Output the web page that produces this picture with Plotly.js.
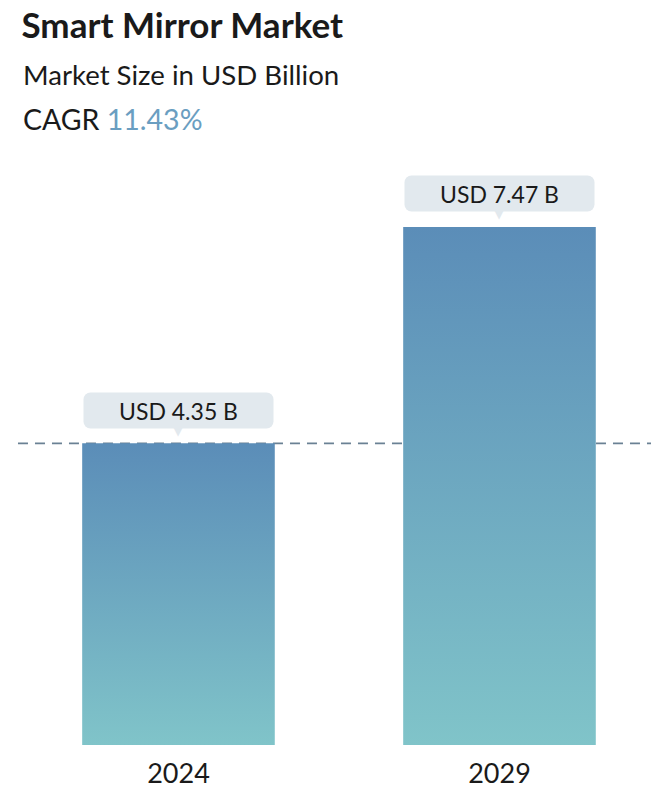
<!DOCTYPE html>
<html>
<head>
<meta charset="utf-8">
<script src="https://cdn.plot.ly/plotly-3.0.1.min.js"></script>
<style>
  body { margin: 0; background: #ffffff; }
  #chart { width: 651px; height: 804px; }
</style>
</head>
<body>
<div id="chart"></div>
<script>
// data
var years = ['2024', '2029'];
var values = [4.35, 7.47];
var labels = ['USD 4.35 B', 'USD 7.47 B'];
var cagr = '11.43%';

var boxColor = '#e2e9ee';

function smart_mirror(){
    var trace = {
        x: years,
        y: values,
        type: 'bar',
        width: 0.6,
        marker: { color: '#6fa6c0' },
        hoverinfo: 'none'
    };

    // label boxes + their little pointers (x as category index)
    var notes = [];
    for (var i = 0; i < years.length; i++) {
        notes.push({
            x: i, y: values[i], xref: 'x', yref: 'y',
            text: labels[i], showarrow: false,
            yshift: 33, yanchor: 'middle',
            width: 189, height: 35, borderpad: 0,
            bgcolor: boxColor,
            font: { family: 'Lato', size: 23, color: '#1a1a1a' }
        });
        notes.push({
            x: i, y: values[i], xref: 'x', yref: 'y',
            text: '▼', showarrow: false,
            yshift: 13, yanchor: 'middle',
            font: { family: 'DejaVu Sans', size: 13, color: boxColor }
        });
    }

    notes.push({
        xref: 'paper', yref: 'paper', x: 0.033, y: (745 - 74) / 595,
        xanchor: 'left', yanchor: 'middle', showarrow: false,
        text: 'Market Size in USD Billion',
        font: { family: 'Lato', size: 27.6, color: '#1a1a1a' }
    });
    notes.push({
        xref: 'paper', yref: 'paper', x: 0.033, y: (745 - 119) / 595,
        xanchor: 'left', yanchor: 'middle', showarrow: false,
        text: 'CAGR <span style="color:#6a9ec1">' + cagr + '</span>',
        font: { family: 'Lato', size: 28.5, color: '#1a1a1a' }
    });

    var layout = {
        width: 651,
        height: 804,
        margin: { t: 150, b: 59, l: 0, r: 0 },
        paper_bgcolor: '#ffffff',
        plot_bgcolor: '#ffffff',
        showlegend: false,
        title: {
            text: 'Smart Mirror Market',
            x: 0.033, xanchor: 'left', xref: 'paper',
            y: 1 - 26 / 804, yref: 'container', yanchor: 'middle',
            font: { family: 'Lato', size: 35, color: '#1a1a1a', weight: 'bold' }
        },
        xaxis: {
            type: 'category',
            range: [-0.556, 1.472],
            showgrid: false, zeroline: false, showline: false,
            ticks: '',
            ticklabelstandoff: 10,
            tickfont: { family: 'Lato', size: 27, color: '#1a1a1a' }
        },
        yaxis: {
            range: [0, 595 / 69.35],
            visible: false,
            showgrid: false, zeroline: false
        },
        shapes: [{
            type: 'line', xref: 'x', yref: 'y',
            x0: -0.5, x1: 1.472, y0: values[0], y1: values[0],
            line: { color: '#6a8194', width: 1.6, dash: '10px,7px' },
            layer: 'below'
        }],
        annotations: notes
    };

    Plotly.newPlot('chart', [trace], layout, { displayModeBar: false, staticPlot: true }).then(function(gd){
        // vertical gradient on the bars
        var svg = gd.querySelector('.main-svg');
        var ns = 'http://www.w3.org/2000/svg';
        var defs = svg.querySelector('defs');
        var grad = document.createElementNS(ns, 'linearGradient');
        grad.setAttribute('id', 'barGrad');
        grad.setAttribute('x1', '0'); grad.setAttribute('y1', '0');
        grad.setAttribute('x2', '0'); grad.setAttribute('y2', '1');
        [['0', '#5b8db8'], ['1', '#80c4c9']].forEach(function(s){
            var stop = document.createElementNS(ns, 'stop');
            stop.setAttribute('offset', s[0]);
            stop.setAttribute('stop-color', s[1]);
            grad.appendChild(stop);
        });
        defs.appendChild(grad);
        gd.querySelectorAll('.bars .point path').forEach(function(p){
            p.style.fill = 'url(#barGrad)';
        });
        // rounded label boxes
        gd.querySelectorAll('.annotation rect.bg').forEach(function(r){
            r.setAttribute('rx', 7);
            r.setAttribute('ry', 7);
        });
    });
}

smart_mirror();
</script>
</body>
</html>
